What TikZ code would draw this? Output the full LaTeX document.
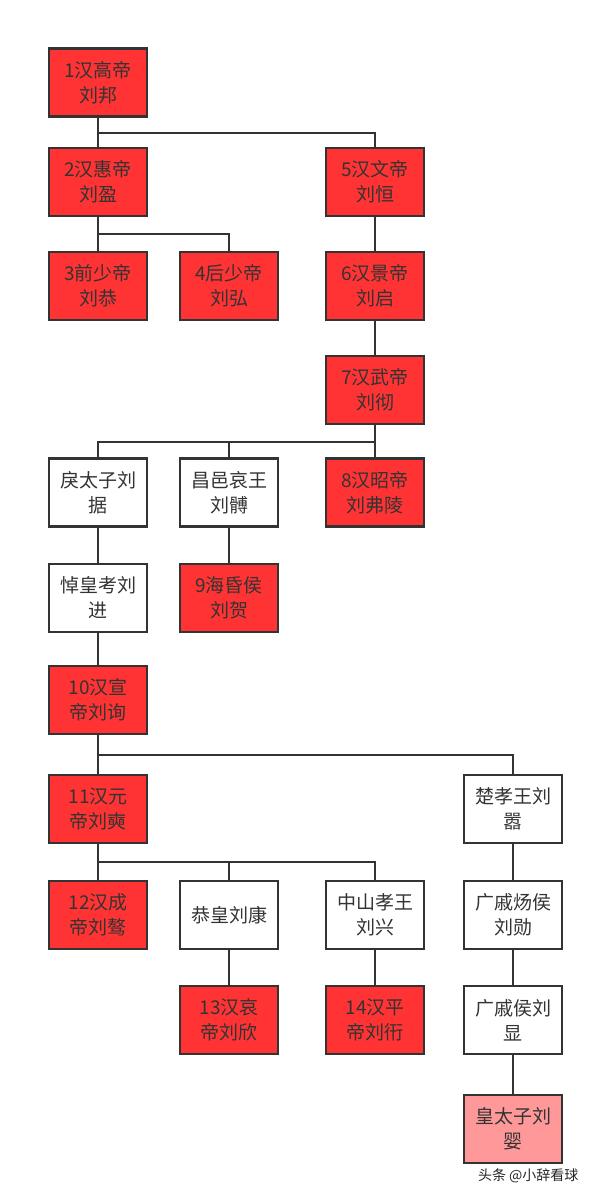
\documentclass[tikz,border=0pt]{standalone}
\usepackage{fontspec}
\setmainfont{Noto Sans CJK SC}
\definecolor{edge}{HTML}{333333}
\definecolor{txt}{HTML}{333333}
\definecolor{empf}{HTML}{FF3333}
\definecolor{pinkf}{HTML}{FF9999}
\begin{document}
\begin{tikzpicture}[x=1pt,y=-1pt,
  box/.style={draw=edge, line width=2.2pt, minimum width=98pt, minimum height=68pt,
    inner sep=0pt, align=center, font=\fontsize{19}{25}\selectfont, text=txt},
  emp/.style={box, fill=empf},
  oth/.style={box, fill=white},
  heir/.style={box, fill=pinkf},
  link/.style={draw=edge, line width=2pt}]
\useasboundingbox[fill=white] (0,0) rectangle (595,1196);
% nodes
\node[emp] (n1) at (98,82.5) {1汉高帝\\刘邦};
\node[emp] (n2) at (98,182) {2汉惠帝\\刘盈};
\node[emp] (n5) at (375,182) {5汉文帝\\刘恒};
\node[emp] (n3) at (98,286) {3前少帝\\刘恭};
\node[emp] (n4) at (229,286) {4后少帝\\刘弘};
\node[emp] (n6) at (375,286) {6汉景帝\\刘启};
\node[emp] (n7) at (375,390) {7汉武帝\\刘彻};
\node[oth] (ju) at (98,492.5) {戾太子刘\\据};
\node[oth] (cy) at (229,492.5) {昌邑哀王\\刘髆};
\node[emp] (n8) at (375,492.5) {8汉昭帝\\刘弗陵};
\node[oth] (dh) at (98,598) {悼皇考刘\\进};
\node[emp] (n9) at (229,598) {9海昏侯\\刘贺};
\node[emp] (n10) at (98,700) {10汉宣\\帝刘询};
\node[emp] (n11) at (98,809) {11汉元\\帝刘奭};
\node[oth] (cx) at (513,809) {楚孝王刘\\嚣};
\node[emp] (n12) at (98,915) {12汉成\\帝刘骜};
\node[oth] (gk) at (229,915) {恭皇刘康};
\node[oth] (zs) at (375,915) {中山孝王\\刘兴};
\node[oth] (gy) at (513,915) {广戚炀侯\\刘勋};
\node[emp] (n13) at (229,1020) {13汉哀\\帝刘欣};
\node[emp] (n14) at (375,1020) {14汉平\\帝刘衎};
\node[oth] (gx) at (513,1020) {广戚侯刘\\显};
\node[heir] (hz) at (513,1129) {皇太子刘\\婴};
% junctions
\coordinate (j1) at (98,133);
\coordinate (j2) at (98,233.5);
\coordinate (j7) at (375,441.5);
\coordinate (j10) at (98,755);
\coordinate (j11) at (98,862);
% connectors
\draw[link] (n1.south) -- (j1) -| (n5.north);
\draw[link] (j1) -- (n2.north);
\draw[link] (n2.south) -- (j2) -| (n4.north);
\draw[link] (j2) -- (n3.north);
\draw[link] (n5.south) -- (n6.north);
\draw[link] (n6.south) -- (n7.north);
\draw[link] (n7.south) -- (j7) -| (ju.north);
\draw[link] (j7) -| (cy.north);
\draw[link] (j7) -- (n8.north);
\draw[link] (ju.south) -- (dh.north);
\draw[link] (cy.south) -- (n9.north);
\draw[link] (dh.south) -- (n10.north);
\draw[link] (n10.south) -- (j10) -| (cx.north);
\draw[link] (j10) -- (n11.north);
\draw[link] (n11.south) -- (j11) -| (zs.north);
\draw[link] (j11) -| (gk.north);
\draw[link] (j11) -- (n12.north);
\draw[link] (gk.south) -- (n13.north);
\draw[link] (zs.south) -- (n14.north);
\draw[link] (cx.south) -- (gy.north);
\draw[link] (gy.south) -- (gx.north);
\draw[link] (gx.south) -- (hz.north);
% footer text
\node[font=\fontsize{14}{14}\selectfont, text=black!85, anchor=east] (wm) at (582,1176) {头条 @小辞看球};
\end{tikzpicture}
\end{document}
